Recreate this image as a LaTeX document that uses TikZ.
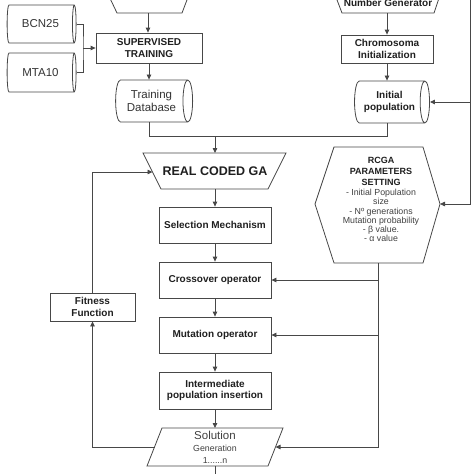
\documentclass[tikz,border=0pt]{standalone}
\usepackage{fontspec}
\setmainfont{Liberation Sans}
\usetikzlibrary{arrows.meta,shapes.geometric}
\begin{document}
\begin{tikzpicture}[x=1pt,y=-1pt,
  line/.style={draw=black!72, line width=0.8pt},
  arr/.style={line, -{Triangle[length=5pt,width=4.5pt]}},
  box/.style={rectangle, draw=black!72, line width=0.8pt, inner sep=0pt, align=center,
    text=black!88, font=\bfseries\fontsize{10}{11.5}\selectfont},
  db/.style={cylinder, aspect=0.45, draw=black!72, line width=0.8pt, inner sep=0pt,
    align=center, text=black!80, font=\fontsize{11.5}{13}\selectfont},
  dbb/.style={db, text=black!88, font=\bfseries\fontsize{10}{11.5}\selectfont},
  lbl/.style={inner sep=0pt, anchor=base, text=black!75},
  hb/.style={lbl, text=black!88, font=\bfseries\fontsize{9}{10}\selectfont},
  hr/.style={lbl, font=\fontsize{8.8}{9.5}\selectfont}]
\useasboundingbox (0,0) rectangle (474,474);
% top partial shapes
\draw[line] (107,-8) -- (117,13) -- (182,13) -- (190,-8);
\coordinate (tl) at (148,13);
\draw[line] (334,-8) -- (342,13) -- (434,13) -- (441,-8);
\node[lbl, text=black!88, font=\bfseries\fontsize{10}{11.5}\selectfont] (ng) at (388,6) {Number Generator};
\coordinate (ngb) at (387,13);
% left databases
\node[db, minimum height=69pt, minimum width=38pt] (bcn) at (40.5,24) {BCN25};
\node[db, minimum height=69pt, minimum width=39pt] (mta) at (40.5,72.5) {MTA10};
\node[box, minimum width=106pt, minimum height=30pt] (sup) at (149,48) {SUPERVISED\\TRAINING};
\node[db, minimum height=77pt, minimum width=42pt] (tdb) at (151.5,101) {Training\\Database};
% right column
\node[box, minimum width=92pt, minimum height=28pt] (chrom) at (387,49) {Chromosoma\\Initialization};
\node[dbb, minimum height=75pt, minimum width=42pt] (ipop) at (389.5,102) {Initial\\population};
% real coded GA
\draw[line] (143,153) -- (286,153) -- (268,189) -- (161,189) -- cycle;
\node[inner sep=0pt, text=black!88, font=\bfseries\fontsize{12.5}{14}\selectfont] (rcga) at (215,171) {REAL CODED GA};
\coordinate (rcgaN) at (215,153);
\coordinate (rcgaS) at (215,189);
\coordinate (rcgaL) at (152.5,172);
% main column
\node[box, minimum width=112pt, minimum height=36pt] (sel) at (215,225) {Selection Mechanism};
\node[box, minimum width=112pt, minimum height=36pt] (cross) at (215,280) {Crossover operator};
\node[box, minimum width=112pt, minimum height=36pt] (mut) at (215,335) {Mutation operator};
\node[box, minimum width=112pt, minimum height=37pt] (inter) at (215,390.5) {Intermediate\\population insertion};
% solution
\draw[line] (162,428) -- (283,428) -- (268,466) -- (147,466) -- cycle;
\node[lbl, font=\fontsize{11.5}{13}\selectfont] (sol1) at (215,439) {Solution};
\node[lbl, font=\fontsize{8.8}{10}\selectfont] (sol2) at (215,451) {Generation};
\node[lbl, font=\fontsize{8.8}{10}\selectfont] (sol3) at (215,463) {1......n};
\coordinate (solT) at (215,428);
\coordinate (solB) at (215,466);
\coordinate (solL) at (154.5,447);
\coordinate (solR) at (275.5,447);
\coordinate (bot) at (215,480);
% fitness
\node[box, minimum width=85pt, minimum height=28pt] (fit) at (92.5,307) {Fitness\\Function};
% RCGA parameters hexagon
\draw[line] (315,204) -- (334,147) -- (423,147) -- (440,204) -- (423,263) -- (334,263) -- cycle;
\coordinate (hexR) at (440,204);
\coordinate (hexB) at (378,263);
\node[hb] (h1) at (381,163) {RCGA};
\node[hb] (h2) at (381,174.3) {PARAMETERS};
\node[hb] (h3) at (381,185) {SETTING};
\node[hr] (h4) at (381,195) {- Initial Population};
\node[hr] (h5) at (381,204.3) {size};
\node[hr] (h6) at (381,214) {- Nº generations};
\node[hr] (h7) at (381,223.3) {Mutation probability};
\node[hr] (h8) at (381,232.7) {- β value.};
\node[hr] (h9) at (381,241.7) {- α value};
% connectors
\coordinate (j1) at (83,48);
\draw[line] (bcn.east) -| (j1) |- (mta.east);
\draw[arr] (j1) -- (sup.west);
\draw[arr] (tl) -- (tl |- sup.north);
\draw[arr] (sup.south) -- (sup.south |- tdb.north);
\coordinate (m) at (215,136);
\draw[line] (sup.south |- tdb.south) |- (chrom.south |- m) -- (chrom.south |- ipop.south);
\draw[arr] (m) -- (rcgaN);
\draw[arr] (ngb) -- (chrom.north);
\draw[arr] (chrom.south) -- (chrom.south |- ipop.north);
\coordinate (rtop) at (470,-8);
\draw[arr] (rtop) |- (hexR);
\draw[arr] (rtop |- ipop.east) -- (ipop.east);
\draw[arr] (rcgaS) -- (sel.north);
\draw[arr] (sel.south) -- (cross.north);
\draw[arr] (cross.south) -- (mut.north);
\draw[arr] (mut.south) -- (inter.north);
\draw[arr] (inter.south) -- (solT);
\draw[line] (solB) -- (bot);
\draw[arr] (hexB) |- (solR);
\draw[arr] (hexB |- cross.east) -- (cross.east);
\draw[arr] (hexB |- mut.east) -- (mut.east);
\draw[arr] (solL) -| (fit.south);
\draw[arr] (fit.north) |- (rcgaL);
\end{tikzpicture}
\end{document}
